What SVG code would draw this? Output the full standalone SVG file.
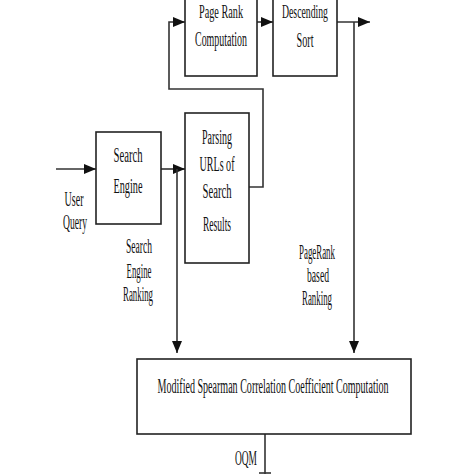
<svg xmlns="http://www.w3.org/2000/svg" width="474" height="474" viewBox="0 0 474 474">
<defs>
<style>
.box{fill:#fff;stroke:#222;stroke-width:1.6}
.ln{fill:none;stroke:#333;stroke-width:1.6}
text{font-family:"Liberation Serif","Times New Roman",serif;font-size:20px;fill:#111;text-anchor:middle}
.top{font-size:18px}
</style>
<marker id="ah" viewBox="0 0 12 10" refX="12" refY="5" markerWidth="12" markerHeight="10" markerUnits="userSpaceOnUse" orient="auto">
<path d="M0,0 L12,5 L0,10 Z" fill="#111"/>
</marker>
</defs>
<rect width="474" height="474" fill="#fff"/>
<g id="connectors">
<path class="ln" d="M56,169 H96" marker-end="url(#ah)"/>
<path class="ln" d="M161,169 H185" marker-end="url(#ah)"/>
<path class="ln" d="M249,187 H263 V89 H169 V22 H185" marker-end="url(#ah)"/>
<path class="ln" d="M257,22 H273" marker-end="url(#ah)"/>
<path class="ln" d="M337,22 H370" marker-end="url(#ah)"/>
<path class="ln" d="M354,22 V353" marker-end="url(#ah)"/>
<path class="ln" d="M177,169 V353" marker-end="url(#ah)"/>
<path class="ln" d="M265,434 V474"/>
<path class="ln" d="M259,473 H271"/>
</g>
<g id="pagerank">
<rect class="box" x="185" y="-10" width="72" height="86"/>
<text class="top" x="221" y="18" textLength="44" lengthAdjust="spacingAndGlyphs">Page Rank</text>
<text x="221" y="46" textLength="52" lengthAdjust="spacingAndGlyphs">Computation</text>
</g>
<g id="sort">
<rect class="box" x="273" y="-10" width="64" height="86"/>
<text class="top" x="305" y="18" textLength="46" lengthAdjust="spacingAndGlyphs">Descending</text>
<text x="305" y="47" textLength="17" lengthAdjust="spacingAndGlyphs">Sort</text>
</g>
<g id="search-engine">
<rect class="box" x="96" y="132" width="65" height="92"/>
<text x="128" y="162" textLength="29" lengthAdjust="spacingAndGlyphs">Search</text>
<text x="128" y="193" textLength="29" lengthAdjust="spacingAndGlyphs">Engine</text>
</g>
<g id="parsing">
<rect class="box" x="185" y="113" width="64" height="150"/>
<text x="217" y="144" textLength="30" lengthAdjust="spacingAndGlyphs">Parsing</text>
<text x="217" y="171" textLength="35" lengthAdjust="spacingAndGlyphs">URLs of</text>
<text x="217" y="198" textLength="29" lengthAdjust="spacingAndGlyphs">Search</text>
<text x="217" y="231" textLength="28" lengthAdjust="spacingAndGlyphs">Results</text>
</g>
<g id="spearman">
<rect class="box" x="137" y="359" width="274" height="75"/>
<text transform="scale(0.55,1)" x="496.4" y="393" textLength="420" lengthAdjust="spacingAndGlyphs">Modified Spearman Correlation Coefficient Computation</text>
</g>
<g id="labels">
<text x="74" y="206" textLength="19" lengthAdjust="spacingAndGlyphs">User</text>
<text x="75" y="229" textLength="24" lengthAdjust="spacingAndGlyphs">Query</text>
<text x="139" y="253" textLength="26" lengthAdjust="spacingAndGlyphs">Search</text>
<text x="139" y="278" textLength="25" lengthAdjust="spacingAndGlyphs">Engine</text>
<text x="138" y="301" textLength="30" lengthAdjust="spacingAndGlyphs">Ranking</text>
<text x="317" y="259" textLength="36" lengthAdjust="spacingAndGlyphs">PageRank</text>
<text x="318" y="282" textLength="22" lengthAdjust="spacingAndGlyphs">based</text>
<text x="317" y="305" textLength="30" lengthAdjust="spacingAndGlyphs">Ranking</text>
<text x="246" y="465" textLength="22" lengthAdjust="spacingAndGlyphs">OQM</text>
</g>
</svg>
